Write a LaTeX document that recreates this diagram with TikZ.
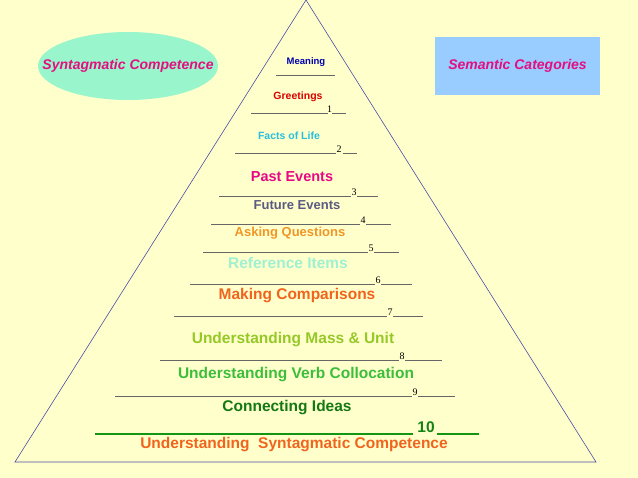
\documentclass[tikz,border=0pt]{standalone}
\usepackage{fontspec}
\usetikzlibrary{shapes.geometric}
\setmainfont{Liberation Sans}
\newfontfamily\serifnum{Liberation Serif}
\begin{document}
\begin{tikzpicture}[x=1pt,y=-1pt,
  lbl/.style={font=\bfseries,inner sep=0pt},
  rule/.style={draw=black!60,line width=0.5pt},
  num/.style={font=\serifnum\fontsize{10}{12}\selectfont,inner sep=1pt,anchor=south},
  cat/.style={font=\bfseries\itshape\fontsize{14}{16}\selectfont,text=magenta!80!purple}]
\definecolor{bg}{HTML}{FFFFCC}
\fill[bg] (0,0) rectangle (638,478);
\useasboundingbox (0,0) rectangle (638,478);
\coordinate (apex) at (306,0);
\coordinate (bl) at (15,462);
\coordinate (br) at (596,462);
\draw[draw=blue!50!black!70,line width=0.6pt] (apex) -- (bl) -- (br) -- cycle;
\node[ellipse,fill={rgb,255:red,153;green,245;blue,204},minimum width=180,minimum height=68,draw=none] (ell) at (128,66) {};
\node[cat] at (ell) {Syntagmatic Competence};
\node[fill={rgb,255:red,153;green,204;blue,255},minimum width=165,minimum height=58,inner sep=0] (box) at (517.5,66) {};
\node[cat] at (box) {Semantic Categories};
% rows
\node[lbl,font=\bfseries\fontsize{9.5}{11}\selectfont,text=blue!70!black] (t0) at (306,62) {Meaning};
\draw[rule] (276,75) -- (335,75);
\node[lbl,font=\bfseries\fontsize{10.5}{12}\selectfont,text=red!85!black] (t1) at (298,97) {Greetings};
\draw[rule] (251,113) -- (328,113); \node[num] (n1) at (329.5,114) {1}; \draw[rule] (332,113) -- (346,113);
\node[lbl,font=\bfseries\fontsize{10.5}{12}\selectfont,text={rgb,255:red,40;green,190;blue,220}] (t2) at (289,136) {Facts of Life};
\draw[rule] (235,153) -- (336,153); \node[num] (n2) at (339,154) {2}; \draw[rule] (343,153) -- (357,153);
\node[lbl,font=\bfseries\fontsize{14.5}{17}\selectfont,text=magenta!90!purple] (t3) at (292,177) {Past Events};
\draw[rule] (219,196) -- (351,196); \node[num] (n3) at (354,197) {3}; \draw[rule] (357,196) -- (378,196);
\node[lbl,font=\bfseries\fontsize{13}{15}\selectfont,text={rgb,255:red,90;green,90;blue,130}] (t4) at (297,205) {Future Events};
\draw[rule] (211,224) -- (360,224); \node[num] (n4) at (363,225) {4}; \draw[rule] (366,224) -- (391,224);
\node[lbl,font=\bfseries\fontsize{13}{15}\selectfont,text={rgb,255:red,240;green,150;blue,40}] (t5) at (290,233) {Asking Questions};
\draw[rule] (203,252) -- (368,252); \node[num] (n5) at (371,253) {5}; \draw[rule] (374,252) -- (399,252);
\node[lbl,font=\bfseries\fontsize{15.5}{18}\selectfont,text={rgb,255:red,160;green,240;blue,210}] (t6) at (288,263) {Reference Items};
\draw[rule] (190,284) -- (375,284); \node[num] (n6) at (378,285) {6}; \draw[rule] (381,284) -- (412,284);
\node[lbl,font=\bfseries\fontsize{15.5}{18}\selectfont,text={rgb,255:red,240;green,100;blue,30}] (t7) at (297,296) {Making Comparisons};
\draw[rule] (174,316) -- (387,316); \node[num] (n7) at (390,317) {7}; \draw[rule] (393,316) -- (423,316);
\node[lbl,font=\bfseries\fontsize{15.5}{18}\selectfont,text={rgb,255:red,150;green,200;blue,40}] (t8) at (293,340) {Understanding Mass \& Unit};
\draw[rule] (160,360) -- (399,360); \node[num] (n8) at (402,361) {8}; \draw[rule] (405,360) -- (442,360);
\node[lbl,font=\bfseries\fontsize{15.5}{18}\selectfont,text={rgb,255:red,60;green,190;blue,60}] (t9) at (296,375) {Understanding Verb Collocation};
\draw[rule] (115,396) -- (412,396); \node[num] (n9) at (415,397) {9}; \draw[rule] (418,396) -- (455,396);
\node[lbl,font=\bfseries\fontsize{15.5}{18}\selectfont,text={rgb,255:red,20;green,120;blue,20}] (t10) at (287,408) {Connecting Ideas};
\draw[draw={rgb,255:red,20;green,150;blue,20},line width=1.3pt] (95,434) -- (413,434);
\node[lbl,font=\bfseries\fontsize{15.5}{18}\selectfont,text={rgb,255:red,20;green,130;blue,20},anchor=south] (n10) at (426,433) {10};
\draw[draw={rgb,255:red,20;green,150;blue,20},line width=1.3pt] (437,434) -- (479,434);
\node[lbl,font=\bfseries\fontsize{15.5}{18}\selectfont,text={rgb,255:red,240;green,100;blue,30}] (t11) at (294,445) {Understanding\ \ Syntagmatic Competence};
\end{tikzpicture}
\end{document}
